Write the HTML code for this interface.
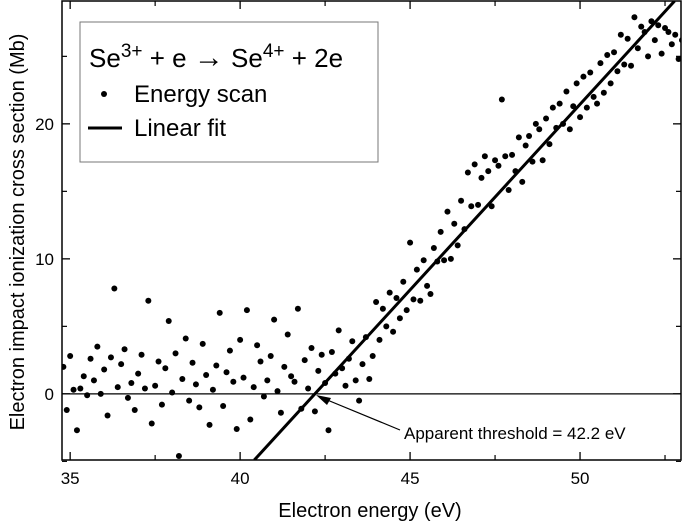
<!DOCTYPE html>
<html><head><meta charset="utf-8"><style>
body{margin:0;background:#fff;}
svg{display:block;font-family:"Liberation Sans",sans-serif;}
</style></head><body>
<svg id="chart" width="683" height="525" viewBox="0 0 683 525">
<defs><clipPath id="plotclip"><rect x="62" y="1" width="619" height="459"/></clipPath></defs>
<g id="marks" clip-path="url(#plotclip)"></g>
<g id="axes"></g>
<rect x="62" y="1" width="619" height="459" fill="none" stroke="#000" stroke-width="1.5"/>
<text x="370" y="517" font-size="20" text-anchor="middle">Electron energy (eV)</text>
<text transform="translate(24,232) rotate(-90)" font-size="20" text-anchor="middle">Electron impact ionization cross section (Mb)</text>
<g>
<rect x="80" y="22" width="298" height="140" fill="#fff" stroke="#777" stroke-width="1"/>
<text x="89" y="67" font-size="26">Se<tspan dy="-10" font-size="19">3+</tspan><tspan dy="10"> + e </tspan><tspan font-size="30">→</tspan><tspan> Se</tspan><tspan dy="-10" font-size="19">4+</tspan><tspan dy="10"> + 2e</tspan></text>
<circle cx="104" cy="94" r="3" fill="#000"/>
<text x="134" y="102" font-size="24">Energy scan</text>
<line x1="88" y1="128" x2="122" y2="128" stroke="#000" stroke-width="3"/>
<text x="134" y="136" font-size="24">Linear fit</text>
</g>
<g>
<line x1="400" y1="430" x2="320" y2="397" stroke="#000" stroke-width="1.2"/>
<polygon points="316,395 331,398 327,405" fill="#000"/>
<text x="404" y="439" font-size="17">Apparent threshold = 42.2 eV</text>
</g>
</svg>
<script>
const energyStart = 34.8;
const energyStep = 0.1;
const crossSection = [
2.0,-1.2,2.8,0.3,-2.7,0.4,1.3,-0.1,2.6,1.0,
3.5,0.0,1.8,-1.6,2.7,7.8,0.5,2.2,3.3,-0.3,
0.8,-1.2,1.5,2.9,0.4,6.9,-2.2,0.6,2.4,-0.8,
1.9,5.4,0.1,3.0,-4.6,1.1,4.1,-0.5,2.3,0.7,
-1.0,3.7,1.4,-2.3,0.3,2.1,6.0,-0.9,1.6,3.2,
0.9,-2.6,4.0,1.2,6.2,-1.9,0.5,3.6,2.4,-0.2,
1.0,2.8,5.5,0.2,-1.4,2.0,4.4,1.3,0.9,6.3,
-1.1,2.5,0.4,3.4,-1.3,1.7,2.9,0.8,-2.7,3.1,
1.5,4.7,1.9,0.6,2.6,3.9,1.0,-0.5,2.2,4.2,
1.1,2.8,
6.8,4.0,6.3,5.0,7.5,4.6,7.1,5.6,8.3,6.2,
11.2,7.0,9.2,6.9,9.9,8.0,7.4,10.8,9.8,12.0,
9.9,13.5,10.0,12.6,11.0,14.3,12.2,16.4,13.9,17.0,
14.0,16.0,17.6,16.5,13.9,17.3,16.9,21.8,17.6,15.1,
17.7,16.5,19.0,15.7,18.4,19.1,17.2,20.0,19.6,17.3,
20.4,18.5,21.2,19.7,21.5,20.0,22.4,19.6,21.3,23.0,
20.5,23.5,21.2,23.8,22.0,21.5,24.5,22.3,25.1,23.0,
25.3,23.9,26.6,24.4,26.3,24.3,27.9,25.6,27.2,26.8,
25.0,27.6,26.2,27.3,25.2,27.1,26.8,25.9,26.6,24.8,26.2
];
const fitThreshold = 42.2;
const fitSlope = 2.75;
const xTicks = [35,40,45,50];
const xMinorTicks = [37.5,42.5,47.5,52.5];
const yTicks = [0,10,20];
const yMinorTicks = [-5,5,15,25];

const NS = "http://www.w3.org/2000/svg";
const X0=62, X1=681, Y0=460, Y1=1;
const xMin=34.76, xMax=52.97, yMin=-4.9, yMax=29.1;
const xs = v => X0 + (v-xMin)/(xMax-xMin)*(X1-X0);
const ys = v => Y0 - (v-yMin)/(yMax-yMin)*(Y0-Y1);
function mk(tag, attrs, parent){const e=document.createElementNS(NS,tag);for(const k in attrs)e.setAttribute(k,attrs[k]);parent.appendChild(e);return e;}
const marks=document.getElementById('marks'), axes=document.getElementById('axes');

const zl = mk('line',{x1:X0,x2:X1,y1:ys(0),y2:ys(0),stroke:'#000','stroke-width':1.3},marks);



crossSection.forEach((v,i)=>{
  const e = energyStart + i*energyStep;
  const c = mk('circle',{cx:xs(e),cy:ys(v),r:3,fill:'#000'},marks);
  
  
});

const fx1 = fitThreshold + yMin/fitSlope, fx2 = fitThreshold + yMax/fitSlope;
const fl = mk('line',{x1:xs(fx1),y1:ys(yMin),x2:xs(fx2),y2:ys(yMax),stroke:'#000','stroke-width':3},marks);



xTicks.forEach(t=>{
  const x=xs(t);
  mk('line',{x1:x,x2:x,y1:Y0,y2:Y0-8,stroke:'#000','stroke-width':1.3},axes);
  mk('line',{x1:x,x2:x,y1:Y1,y2:Y1+8,stroke:'#000','stroke-width':1.3},axes);
  const l=mk('text',{x:x,y:484,'font-size':17,'text-anchor':'middle'},axes);
  l.textContent=t;
  
  
});
xMinorTicks.forEach(t=>{
  const x=xs(t);
  mk('line',{x1:x,x2:x,y1:Y0,y2:Y0-5,stroke:'#000','stroke-width':1.2},axes);
  mk('line',{x1:x,x2:x,y1:Y1,y2:Y1+5,stroke:'#000','stroke-width':1.2},axes);
});
yTicks.forEach(t=>{
  const y=ys(t);
  mk('line',{x1:X0,x2:X0+8,y1:y,y2:y,stroke:'#000','stroke-width':1.3},axes);
  mk('line',{x1:X1,x2:X1-8,y1:y,y2:y,stroke:'#000','stroke-width':1.3},axes);
  const l=mk('text',{x:54,y:y+6,'font-size':17,'text-anchor':'end'},axes);
  l.textContent=t;
  
  
});
yMinorTicks.forEach(t=>{
  const y=ys(t);
  mk('line',{x1:X0,x2:X0+5,y1:y,y2:y,stroke:'#000','stroke-width':1.2},axes);
  mk('line',{x1:X1,x2:X1-5,y1:y,y2:y,stroke:'#000','stroke-width':1.2},axes);
});
</script>
</body></html>
